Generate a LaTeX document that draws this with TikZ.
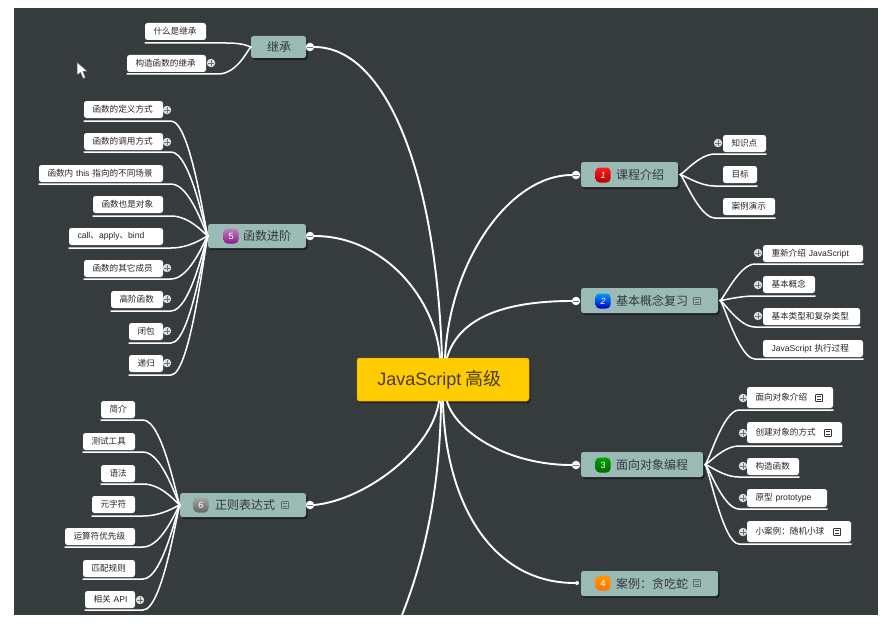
\documentclass[tikz,border=0pt]{standalone}
\usepackage{fontspec}
\setmainfont{Noto Sans CJK SC}
\newfontfamily\latf{Liberation Sans}
\newcommand{\La}[1]{{\latf #1}}
\definecolor{bgdark}{HTML}{363B3E}
\definecolor{bgdot}{HTML}{3D4245}
\definecolor{topicfill}{HTML}{9ABAB6}
\definecolor{topictxt}{HTML}{34393A}
\definecolor{hubfill}{HTML}{FFCC00}
\definecolor{hubtxt}{HTML}{4A3A10}
\usetikzlibrary{shadows}
\tikzset{
  x=1pt,y=-1pt,
  leafbox/.style={fill=white,rounded corners=2.5pt,inner sep=0pt,outer sep=0pt,anchor=north west,
    align=left,font=\fontsize{8.6}{10}\selectfont,text=black!85},
  topicbox/.style={fill=topicfill,rounded corners=2.5pt,inner sep=0pt,outer sep=0pt,anchor=north west,
    align=left,font=\fontsize{12}{14}\selectfont,text=topictxt,
    drop shadow={shadow xshift=1.5pt,shadow yshift=-2pt,fill=black,opacity=.45}},
  hubbox/.style={fill=hubfill,draw=hubfill!85!black,line width=.5pt,rounded corners=2.5pt,inner sep=0pt,
    text=hubtxt,font=\fontsize{18}{20}\selectfont,
    drop shadow={shadow xshift=1.5pt,shadow yshift=-2pt,fill=black,opacity=.45}},
  mainline/.style={draw=white,line width=1.9pt,line cap=round},
  branch/.style={draw=white,line width=1.5pt,line cap=round},
  togglebox/.style={circle,fill=white!88!black,inner sep=0pt,minimum size=8.5pt,outer sep=0pt},
  crossline/.style={draw=black!55,line width=.8pt},
  badgebox/.style={rounded corners=4pt,minimum size=15pt,inner sep=0pt,text=white,
    font=\latf\fontsize{9}{10}\selectfont},
  noteicon/.style={draw=#1,line width=.7pt,minimum width=7pt,minimum height=7pt,inner sep=0pt,rounded corners=.5pt},
}
\newcommand{\Leaf}[7]{% name xl xr ytop ybot ul text
  \node[leafbox,text width={(#3-#2)*1pt},minimum height={(#5-#4)*1pt}] (#1) at (#2,#4) {\hspace*{8.5pt}\raisebox{-.8pt}{#7}};
  \coordinate (#1-l) at (#2,#6);
  \coordinate (#1-r) at (#3,#6);
}
\newcommand{\Topic}[7]{% name xl xr ytop ybot offset text
  \node[topicbox,text width={(#3-#2)*1pt},minimum height={(#5-#4)*1pt}] (#1) at (#2,#4) {\hspace*{#6pt}\raisebox{-.8pt}{#7}};
}
\newcommand{\BrL}[3][8]{\draw[branch] (#2.west) .. controls +(-2,0) and +(20,0) .. ([xshift=#1pt]#3-r) -- (#3-l);}
\newcommand{\BrR}[3][8]{\draw[branch] ([xshift=2pt]#2.east) .. controls +(3,0) and +(-16,0) .. ([xshift=-#1pt]#3-l) -- (#3-r);}
\newcommand{\Plus}[3]{\node[togglebox] (#1) at (#2,#3) {};
  \draw[crossline] ([xshift=-3.4pt]#1.center) -- ([xshift=3.4pt]#1.center) ([yshift=-3.4pt]#1.center) -- ([yshift=3.4pt]#1.center);}
\newcommand{\Minus}[3]{\node[togglebox,fill=white] (#1) at (#2,#3) {};
  \draw[crossline] ([xshift=-3.4pt]#1.center) -- ([xshift=3.4pt]#1.center);}
\newcommand{\Note}[4]{\node[noteicon=#4] (#1) at (#2,#3) {};
  \draw[#4,line width=.5pt] ([xshift=-2pt,yshift=1.3pt]#1.center) -- ([xshift=2pt,yshift=1.3pt]#1.center)
    ([xshift=-2pt,yshift=-1.3pt]#1.center) -- ([xshift=2pt,yshift=-1.3pt]#1.center);}
\begin{document}
\begin{tikzpicture}
\useasboundingbox (0,0) rectangle (894,626);
\fill[white] (0,0) rectangle (894,626);
\fill[bgdark] (14,8) rectangle (878,615);
\foreach \yy in {10,14,...,614} {\draw[bgdot,line width=.8pt,dash pattern=on 1pt off 3pt] (14,\yy) -- (878,\yy);}

% hub and main topics
\node[hubbox,minimum width=172pt,minimum height=43pt] (hub) at (443,379.5) {\hspace*{-7pt}\raisebox{-1.5pt}{\La{JavaScript} 高级}};

\Topic{jc}{251}{306}{36}{58}{16}{继承}
\Topic{hs}{208}{306}{224}{248}{35}{函数进阶}
\Topic{zz}{180}{306}{493}{517}{35}{正则表达式}
\Topic{kc}{581}{678}{162}{187}{35}{课程介绍}
\Topic{jb}{581}{718}{288}{313}{35}{基本概念复习}
\Topic{mx}{581}{703}{452}{477}{35}{面向对象编程}
\Topic{al}{581}{718}{571}{596}{35}{案例：贪吃蛇}

\Minus{tjc}{310}{47}
\Minus{ths}{310}{236}
\Minus{tzz}{310}{505}
\Minus{tkc}{576}{175}
\Minus{tjb}{576}{301}
\Minus{tmx}{576}{465}
\node[circle,fill=white,minimum size=4pt,inner sep=0pt] (tal) at (577,583) {};
\coordinate (offpage) at (402,615);

% main connectors
\draw[mainline] ([xshift=-1pt]hub.north) .. controls (436,170) and (385,47) .. (tjc.east);
\draw[mainline] ([xshift=-3pt]hub.north) .. controls (436,300) and (385,236) .. (ths.east);
\draw[mainline] ([xshift=2pt]hub.north) .. controls (450,260) and (510,175) .. (tkc.west);
\draw[mainline] ([xshift=4pt]hub.north) .. controls (458,320) and (500,301) .. (tjb.west);
\draw[mainline] ([xshift=4pt]hub.south) .. controls (455,430) and (505,465) .. (tmx.west);
\draw[mainline] ([xshift=0pt]hub.south) .. controls (445,500) and (490,583) .. (tal.west);
\draw[mainline] ([xshift=-4pt]hub.south) .. controls (432,450) and (365,500) .. (tzz.east);
\draw[mainline,line cap=butt] ([xshift=-2pt]hub.south) .. controls (440,500) and (420,570) .. (offpage);

% leaves
\Leaf{a1}{145}{206}{23}{40}{43}{什么是继承}
\Leaf{a2}{127}{206}{55}{72}{74}{构造函数的继承}

\Leaf{b1}{84}{163}{101}{118}{121}{函数的定义方式}
\Leaf{b2}{84}{163}{133}{150}{152}{函数的调用方式}
\Leaf{b3}{39}{163}{165}{182}{184}{函数内 \La{this} 指向的不同场景}
\Leaf{b4}{93}{163}{196}{213}{216}{函数也是对象}
\Leaf{b5}{69}{163}{228}{245}{248}{\La{call}、\La{apply}、\La{bind}}
\Leaf{b6}{84}{163}{260}{277}{279}{函数的其它成员}
\Leaf{b7}{111}{163}{291}{308}{311}{高阶函数}
\Leaf{b8}{129}{163}{323}{340}{343}{闭包}
\Leaf{b9}{129}{163}{355}{372}{375}{递归}

\Leaf{c1}{101}{135}{401}{418}{420}{简介}
\Leaf{c2}{83}{135}{433}{450}{452}{测试工具}
\Leaf{c3}{101}{135}{465}{482}{484}{语法}
\Leaf{c4}{92}{135}{496}{513}{516}{元字符}
\Leaf{c5}{65}{135}{528}{545}{547}{运算符优先级}
\Leaf{c6}{83}{135}{560}{577}{579}{匹配规则}
\Leaf{c7}{85}{135}{591}{608}{610}{相关 \La{API}}

\Leaf{d1}{723}{766}{135}{152}{154}{知识点}
\Leaf{d2}{723}{757}{166}{183}{186}{目标}
\Leaf{d3}{723}{775}{198}{215}{218}{案例演示}

\Leaf{e1}{763}{863}{245}{262}{264}{重新介绍 \La{JavaScript}}
\Leaf{e2}{763}{815}{276}{293}{296}{基本概念}
\Leaf{e3}{763}{860}{308}{325}{327}{基本类型和复杂类型}
\Leaf{e4}{763}{863}{340}{357}{359}{\La{JavaScript} 执行过程}

\Leaf{f1}{747}{833}{387}{408}{410}{面向对象介绍}
\Leaf{f2}{747}{842}{422}{443}{446}{创建对象的方式}
\Leaf{f3}{747}{799}{458}{475}{477}{构造函数}
\Leaf{f4}{747}{827}{489}{507}{509}{原型 \La{prototype}}
\Leaf{f5}{747}{851}{521}{542}{544}{小案例：随机小球}

% branches
\BrL[20]{jc}{a1}
\BrL[12]{jc}{a2}
\foreach \n in {b1,b2,b3,b4,b5,b6,b7,b8,b9} {\BrL{hs}{\n}}
\foreach \n in {c1,c2,c3,c4,c5,c6,c7} {\BrL{zz}{\n}}
\foreach \n in {d1,d2,d3} {\BrR{kc}{\n}}
\foreach \n in {e1,e2,e3,e4} {\BrR{jb}{\n}}
\foreach \n in {f1,f2,f3,f4,f5} {\BrR{mx}{\n}}

% toggles
\Plus{pa2}{211}{63}
\Plus{pb1}{167}{110}
\Plus{pb2}{167}{142}
\Plus{pb6}{167}{268}
\Plus{pb7}{167}{299}
\Plus{pb8}{167}{331}
\Plus{pb9}{167}{363}
\Plus{pc7}{140}{600}
\Plus{pd1}{718}{143}
\Plus{pe1}{758}{253}
\Plus{pe2}{758}{285}
\Plus{pe3}{758}{316}
\Plus{pf1}{743}{398}
\Plus{pf2}{743}{433}
\Plus{pf3}{743}{466}
\Plus{pf4}{743}{498}
\Plus{pf5}{743}{532}

% badges
\node[badgebox,top color=red!90!white,bottom color=red!70!black] (b-1) at (603,175) {\itshape 1};
\node[badgebox,top color=blue!40!cyan,bottom color=blue!75!black] (b-2) at (603,301) {\itshape 2};
\node[badgebox,top color=green!65!black,bottom color=green!40!black] (b-3) at (603,465) {3};
\node[badgebox,top color=orange!80!yellow,bottom color=orange!90!red] (b-4) at (603,583) {4};
\node[badgebox,top color=violet!50!white,bottom color=violet!90!white] (b-5) at (231,236) {5};
\node[badgebox,top color=black!35,bottom color=black!60] (b-6) at (201,505) {6};

% note icons
\Note{n1}{697}{301}{black!60}
\Note{n2}{697}{583}{black!60}
\Note{n3}{285}{505}{black!60}
\Note{n4}{819}{398}{black!80}
\Note{n5}{828}{433}{black!80}
\Note{n6}{837}{532}{black!80}

% mouse pointer
\draw[black!70,fill=white,line width=.5pt,line join=round] (77,62) -- (77,75) -- (80.5,72.5) -- (83,78.5) -- (85.5,77.5) -- (83,71.5) -- (87.5,71.5) -- cycle;
\end{tikzpicture}
\end{document}
